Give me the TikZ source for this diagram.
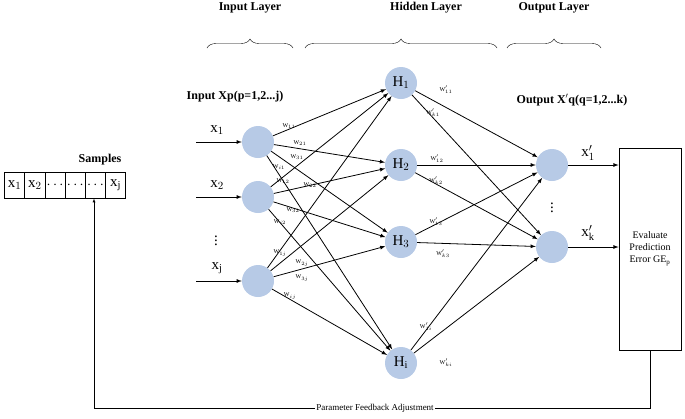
\documentclass[tikz,border=0pt]{standalone}
\usepackage{fontspec}
\setmainfont{Liberation Serif}
\usetikzlibrary{decorations.pathreplacing}
\definecolor{nblue}{RGB}{183,202,230}
\begin{document}
\begin{tikzpicture}[x=1pt,y=-1pt,>=latex,
  neuron/.style={circle,fill=nblue,inner sep=0pt,minimum size=32pt},
  w/.style={font=\fontsize{6}{6}\selectfont,inner sep=0pt},
  lay/.style={font=\bfseries\fontsize{12}{12}\selectfont},
  big/.style={font=\fontsize{15}{15}\selectfont},
  brc/.style={decorate,decoration={brace,amplitude=9pt}}]
\useasboundingbox (0,0) rectangle (685,418);

% layers
\draw[brc](207,48)--(293,48);
\draw[brc](305,48)--(497,48);
\draw[brc](507,48)--(601,48);
\node[lay] (tin) at (250,8){Input Layer};
\node[lay] (thid) at (426,8){Hidden Layer};
\node[lay] (tout) at (554,8){Output Layer};
\node[lay] (lin) at (235,97){Input Xp(p=1,2...j)};
\node[lay] (lout) at (572,100){Output X$'$q(q=1,2...k)};

% neurons
\foreach \y[count=\i] in {142,197,281}
  \node[neuron] (in\i) at (258,\y){};
\foreach \y[count=\i] in {83,165,242,363}
  \node[neuron] (h\i) at (401,\y){};
\foreach \y[count=\i] in {165,247}
  \node[neuron] (o\i) at (552,\y){};
\node[big] at (401,83){H$_1$};
\node[big] at (401,165){H$_2$};
\node[big] at (401,242){H$_3$};
\node[big] at (401,363){H$_\mathrm{i}$};

\foreach \a in {1,2,3}
  \foreach \b in {1,2,3,4}
    \draw[->,thick] (in\a) -- (h\b);
\foreach \a in {1,2,3,4}
  \foreach \b in {1,2}
    \draw[->,thick] (h\a) -- (o\b);

% weights
\node[w] at (289,126){W$_{11}$};
\node[w] at (300,143){W$_{21}$};
\node[w] at (297,157){W$_{31}$};
\node[w] at (279,167){W$_{i1}$};
\node[w] at (283,181){W$_{12}$};
\node[w] at (310,185){W$_{22}$};
\node[w] at (293,210){W$_{32}$};
\node[w] at (280,222){W$_{i2}$};
\node[w] at (280,253){W$_{1j}$};
\node[w] at (302,263){W$_{2j}$};
\node[w] at (302,278){W$_{3j}$};
\node[w] at (290,296){W$_{ij}$};
\node[w] at (446,90){W$'_{11}$};
\node[w] at (433,113){W$'_{k1}$};
\node[w] at (437,159){W$'_{12}$};
\node[w] at (436,181){W$'_{k2}$};
\node[w] at (436,222){W$'_{13}$};
\node[w] at (443,254){W$'_{k3}$};
\node[w] at (426,327){W$'_{1i}$};
\node[w] at (446,363){W$'_{ki}$};

% inputs
\foreach \i in {1,2,3}{
  \coordinate (s\i) at (196,0 |- in\i);
  \draw[->,thick] (s\i) -- (in\i);}
\node[big] (x1) at (217,130){x$_1$};
\node[big] (x2) at (217,185){x$_2$};
\node[big] (xj) at (217,268){x$_\mathrm{j}$};
\node[big,inner sep=0pt] (vd) at (216,238){$\vdots$};
\node[big,inner sep=0pt] (od) at (552,205){$\vdots$};

% samples
\node[lay] (samp) at (100,160){Samples};
\foreach \t[count=\i] in {x$_1$,x$_2$,$\cdots$,$\cdots$,$\cdots$,x$_\mathrm{j}$}
  \node[draw,thick,big,inner sep=0pt,minimum width=20.2pt,minimum height=26pt,anchor=west] (c\i) at (20.2*\i-16,185){\t};

% evaluation
\node[draw,thick,minimum width=62pt,minimum height=202pt,align=center,font=\fontsize{10}{12}\selectfont] (ev) at (650,249){Evaluate\\Prediction\\Error GE$_\mathrm{p}$};
\draw[->,thick] (o1) -- (o1 -| ev.west);
\draw[->,thick] (o2) -- (o2 -| ev.west);
\node[big] (y1) at (588,153){x$'_1$};
\node[big] (yk) at (588,233){x$'_\mathrm{k}$};

% feedback
\coordinate (fb) at (94,0 |- c1.south);
\draw[->] (ev.south) -- (650,408) -- (94,408) -- (fb);
\node[fill=white,inner sep=1pt,font=\fontsize{9}{9}\selectfont] (fbl) at (375,408){Parameter Feedback Adjustment};
\end{tikzpicture}
\end{document}
